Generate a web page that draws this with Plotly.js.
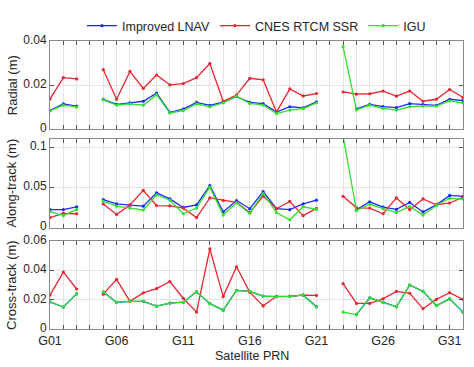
<!DOCTYPE html>
<html><head><meta charset="utf-8">
<script src="https://cdn.plot.ly/plotly-3.0.1.min.js"></script>
<style>html,body{margin:0;padding:0;background:#fff}#chart{width:474px;height:367px}</style>
</head><body><div id="chart"></div>
<script>
const prn = [];
for (let i = 1; i <= 32; i++) prn.push(i);
const tickLabels = ['G01','G06','G11','G16','G21','G26','G31'];
const tickPrn = [1,6,11,16,21,26,31];

const radialLNAV = [0.0085,0.0115,0.0105,null,0.0136,0.0113,0.0120,0.0127,0.0164,0.0077,0.0091,0.0122,0.0108,0.0123,0.0148,0.0122,0.0116,0.0078,0.0102,0.0097,0.0124,null,null,0.0092,0.0113,0.0103,0.0098,0.0116,0.0112,0.0108,0.0136,0.0130];
const radialCNES = [0.0137,0.0234,0.0228,null,0.0270,0.0136,0.0262,0.0185,0.0246,0.0201,0.0207,0.0234,0.0298,0.0127,0.0155,0.0231,0.0224,0.0078,0.0183,0.0151,0.0162,null,0.0169,0.0159,0.0161,0.0173,0.0150,0.0173,0.0127,0.0136,0.0180,0.0144];
const radialIGU = [0.0083,0.0109,0.0101,null,0.0133,0.0110,0.0115,0.0109,0.0157,0.0074,0.0085,0.0115,0.0102,0.0120,0.0150,0.0117,0.0110,0.0071,0.0087,0.0094,0.0120,null,0.0375,0.0088,0.0109,0.0095,0.0087,0.0102,0.0105,0.0105,0.0129,0.0119];

const alongLNAV = [0.0226,0.0226,0.0262,null,0.0353,0.0298,0.0282,0.0270,0.0437,0.0361,0.0254,0.0286,0.0528,0.0198,0.0341,0.0238,0.0452,0.0238,0.0226,0.0298,0.0345,null,null,0.0226,0.0325,0.0258,0.0230,0.0317,0.0198,0.0286,0.0405,0.0393];
const alongCNES = [0.0127,0.0179,0.0175,null,0.0298,0.0167,0.0286,0.0468,0.0278,0.0274,0.0246,0.0127,0.0373,0.0341,0.0317,0.0190,0.0397,0.0238,0.0329,0.0151,0.0242,null,0.0393,0.0250,0.0246,0.0175,0.0373,0.0226,0.0361,0.0286,0.0310,0.0381];
const alongIGU = [0.0202,0.0151,0.0230,null,0.0333,0.0270,0.0246,0.0222,0.0413,0.0345,0.0175,0.0246,0.0508,0.0159,0.0313,0.0179,0.0429,0.0190,0.0099,0.0262,0.0230,null,0.115,0.0214,0.0294,0.0238,0.0190,0.0266,0.0159,0.0278,0.0369,0.0357];

const crossLNAV = [0.0184,0.0149,0.0239,null,0.0251,0.0182,0.0188,0.0188,0.0155,0.0176,0.0182,0.0253,0.0172,0.0128,0.0262,0.0256,0.0224,0.0220,0.0222,0.0230,0.0153,null,null,0.0098,0.0212,0.0182,0.0151,0.0299,0.0256,0.0159,0.0205,0.0115];
const crossCNES = [0.0230,0.0387,0.0272,null,0.0237,0.0337,0.0188,0.0245,0.0274,0.0323,0.0209,0.0115,0.0544,0.0220,0.0423,0.0249,0.0157,0.0222,0.0224,0.0230,0.0228,null,0.0308,0.0174,0.0174,0.0205,0.0256,0.0243,0.0138,0.0201,0.0247,0.0201];
const crossIGU = [0.0184,0.0149,0.0239,null,0.0251,0.0182,0.0188,0.0188,0.0155,0.0176,0.0182,0.0253,0.0172,0.0128,0.0262,0.0256,0.0224,0.0220,0.0222,0.0230,0.0149,null,0.0115,0.0098,0.0212,0.0182,0.0151,0.0299,0.0256,0.0159,0.0205,0.0115];

const seriesNames = ['Improved LNAV','CNES RTCM SSR','IGU'];
const colors = ['#1f2bf5','#e8262f','#2fe02f'];

const panels = [
  {x:'x3', y:'y3', data:[radialLNAV, radialCNES, radialIGU], legend:true},
  {x:'x2', y:'y2', data:[alongLNAV, alongCNES, alongIGU], legend:false},
  {x:'x',  y:'y',  data:[crossLNAV, crossCNES, crossIGU], legend:false}
];
const traces = [];
panels.forEach(p => {
  p.data.forEach((vals, k) => {
    traces.push({
      x: prn, y: vals, xaxis: p.x, yaxis: p.y, type: 'scatter', mode: 'lines+markers',
      name: seriesNames[k], showlegend: p.legend, connectgaps: false, cliponaxis: true,
      line: {color: colors[k], width: 1.3}, marker: {color: colors[k], size: 3.2},
      hoverinfo: 'skip'
    });
  });
});

const allTicks = prn.slice();
const allText = prn.map(p => { const i = tickPrn.indexOf(p); return i >= 0 ? tickLabels[i] : ''; });
const font = {family: 'Liberation Sans, Arial, sans-serif', size: 13, color: '#262626'};
const xTickFont = {family: 'Liberation Sans, Arial, sans-serif', size: 12.5, color: '#262626'};
const yTickFont = {family: 'Liberation Sans, Arial, sans-serif', size: 12, color: '#262626'};
function xax(showLabels, anchor) {
  return {range: [1, 32], tickvals: allTicks, ticktext: allText, showticklabels: showLabels,
    ticks: 'inside', ticklen: 4, tickcolor: '#555', showgrid: true, gridcolor: '#e3e3e3', gridwidth: 1,
    showline: true, linecolor: '#8a8a8a', linewidth: 1, mirror: 'ticks', zeroline: false, anchor: anchor,
    tickfont: xTickFont, ticklabelstandoff: 0, fixedrange: true};
}
function yax(domain, range, vals, text, anchor, shift) {
  return {domain: domain, range: range, tickvals: vals, ticktext: text,
    ticks: 'inside', ticklen: 4, tickcolor: '#555', showgrid: true, gridcolor: '#e3e3e3',
    showline: true, linecolor: '#8a8a8a', linewidth: 1, mirror: 'ticks', zeroline: false, anchor: anchor,
    tickfont: yTickFont, ticklabelshift: shift, fixedrange: true};
}
const layout = {
  width: 474, height: 367,
  margin: {l: 50, r: 11, t: 19, b: 38},
  paper_bgcolor: '#fff', plot_bgcolor: '#fff',
  font: font,
  showlegend: true,
  legend: {orientation: 'h', x: 0.5, xanchor: 'center', y: 1.0, yanchor: 'bottom',
    font: {family: 'Liberation Sans, Arial, sans-serif', size: 12.5, color: '#262626'},
    bgcolor: 'rgba(0,0,0,0)', itemwidth: 30, tracegroupgap: 0},
  xaxis: xax(true, 'y'),
  xaxis2: xax(false, 'y2'),
  xaxis3: xax(false, 'y3'),
  yaxis: yax([0, 0.3065], [0, 0.06], [0, 0.02, 0.04, 0.06], ['0','0.02','0.04','0.06'], 'x', -1),
  yaxis2: yax([0.3516, 0.658], [0, 0.1105], [0, 0.05, 0.1], ['0','0.05','0.1'], 'x2', -2),
  yaxis3: yax([0.6935, 1], [0, 0.04], [0, 0.02, 0.04], ['0','0.02','0.04'], 'x3', -1),
  annotations: [
    {text: 'Radial (m)', xref: 'paper', yref: 'paper', x: -0.092, y: 0.8468, textangle: -90, showarrow: false, xanchor: 'center', yanchor: 'middle', font: font},
    {text: 'Along-track (m)', xref: 'paper', yref: 'paper', x: -0.092, y: 0.5048, textangle: -90, showarrow: false, xanchor: 'center', yanchor: 'middle', font: font},
    {text: 'Cross-track (m)', xref: 'paper', yref: 'paper', x: -0.092, y: 0.1532, textangle: -90, showarrow: false, xanchor: 'center', yanchor: 'middle', font: font},
    {text: 'Satellite PRN', xref: 'paper', yref: 'paper', x: 0.49, y: -0.1226, showarrow: false, xanchor: 'center', yanchor: 'bottom', borderpad: 0, font: {family: 'Liberation Sans, Arial, sans-serif', size: 12.5, color: '#262626'}}
  ]
};
Plotly.newPlot('chart', traces, layout, {displayModeBar: false, staticPlot: true});
</script></body></html>
